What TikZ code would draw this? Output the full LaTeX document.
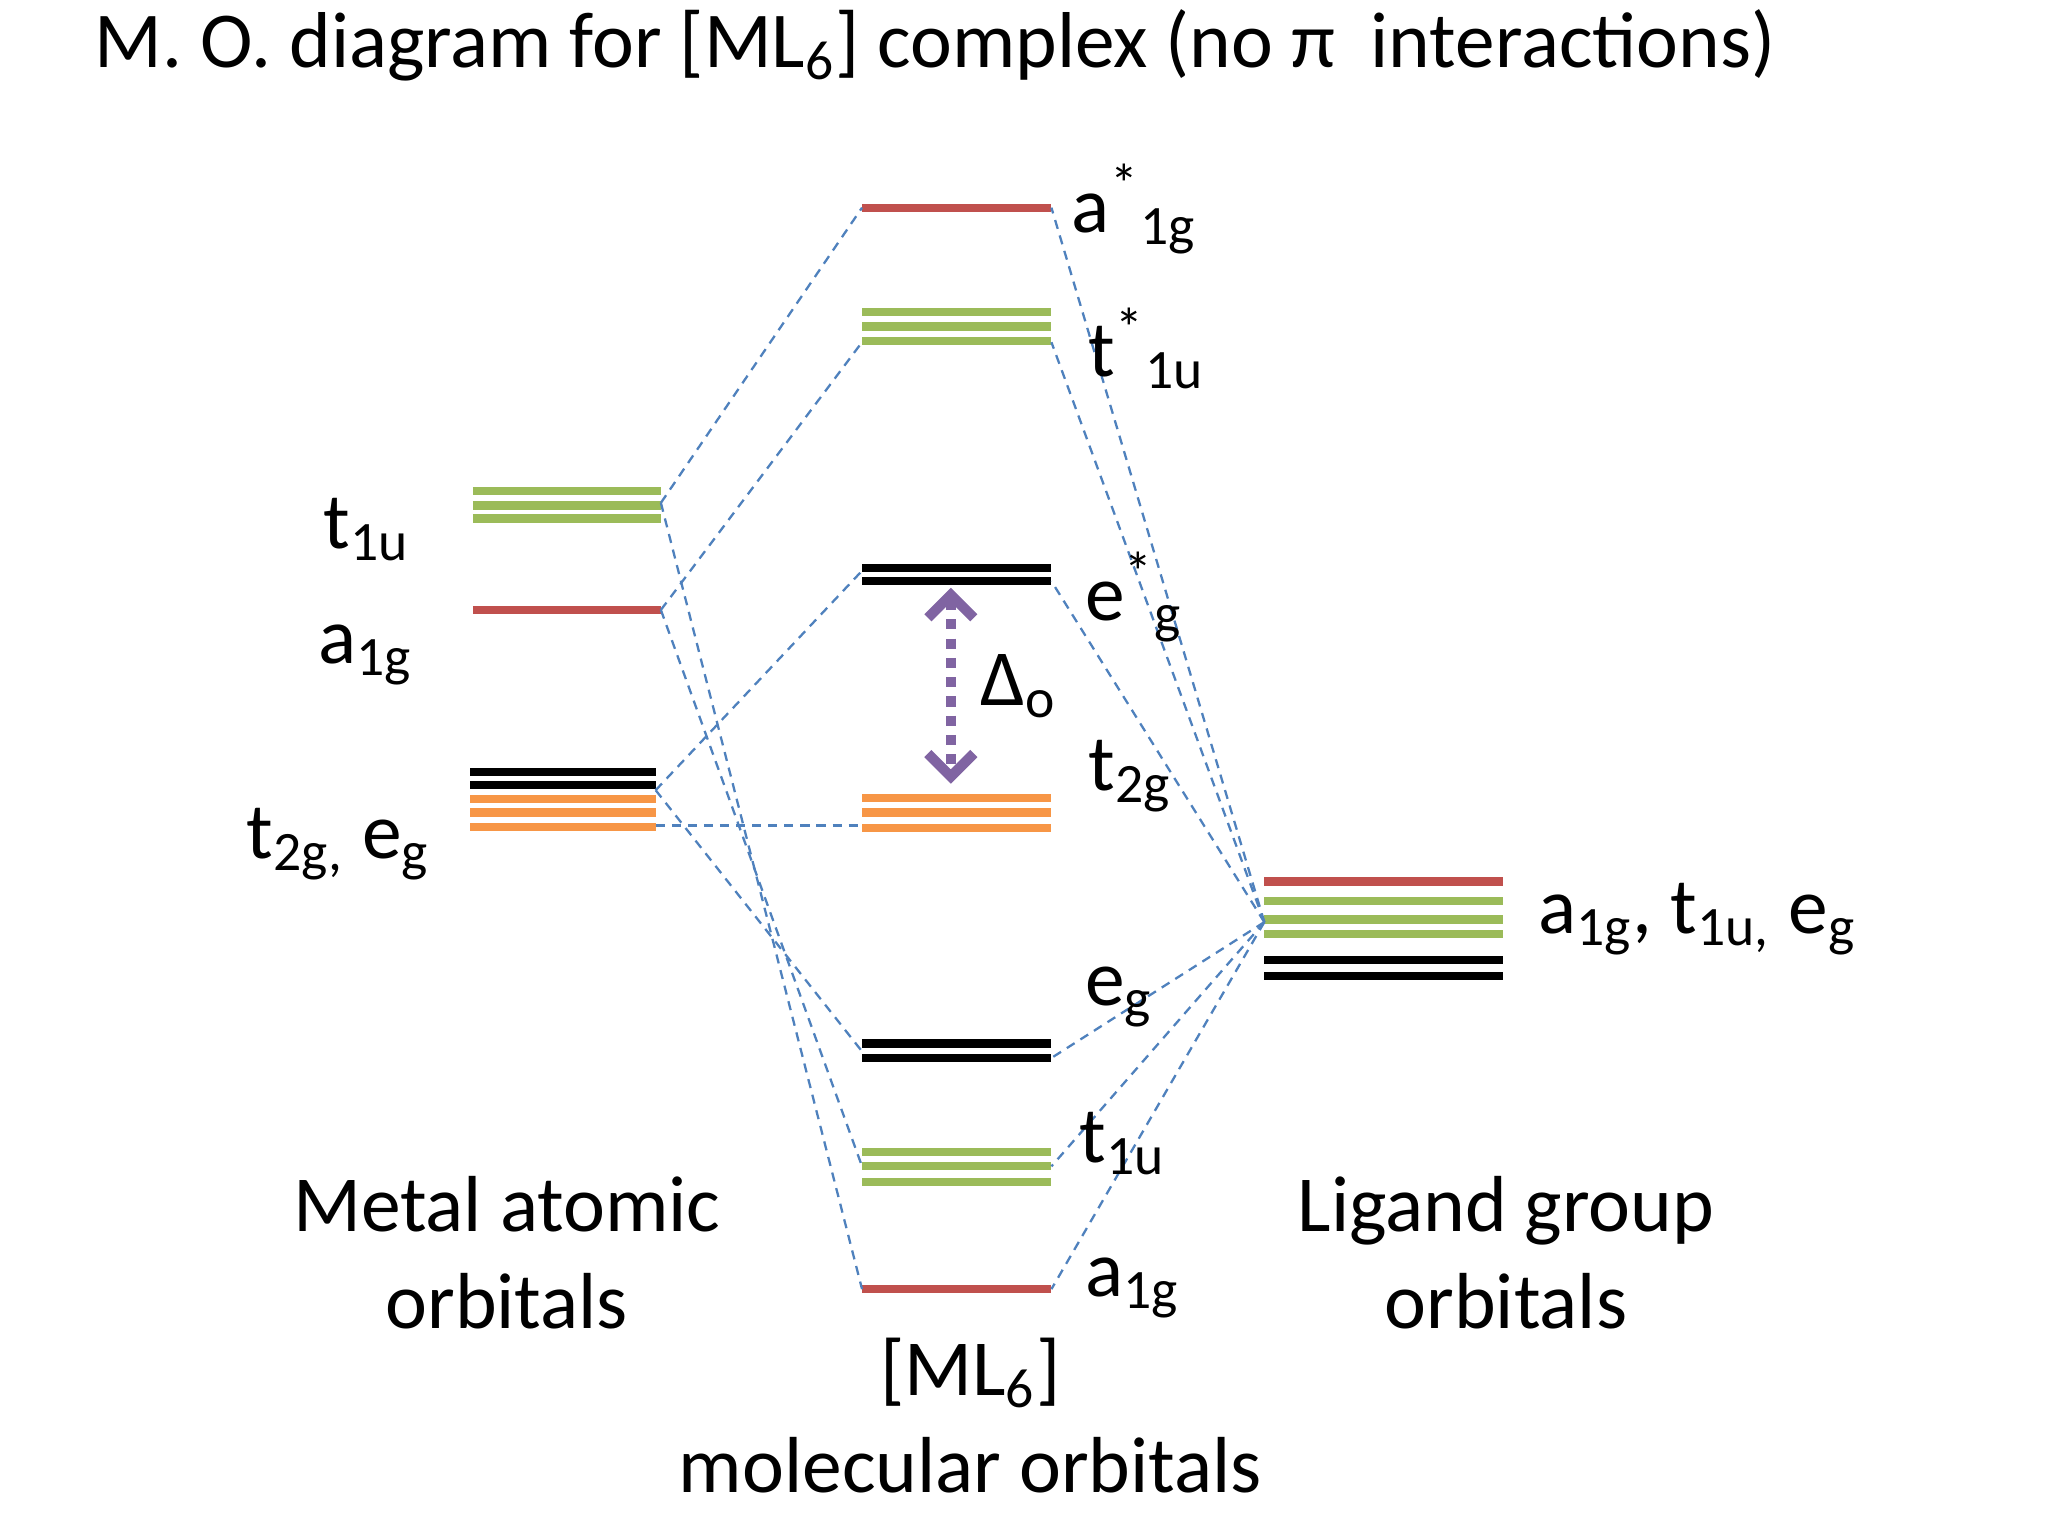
\documentclass[tikz,border=0pt]{standalone}
\usepackage{fontspec}
\setmainfont{Carlito}
\usetikzlibrary{arrows.meta}
\definecolor{lvred}{RGB}{192,80,77}
\definecolor{lvgreen}{RGB}{155,187,89}
\definecolor{lvorange}{RGB}{247,150,70}
\definecolor{conblue}{RGB}{79,129,189}
\definecolor{delpurple}{RGB}{128,100,162}
\tikzset{
  lvl/.style={line width=1.8pt},
  conn/.style={conblue,dashed,line width=0.5pt,dash pattern=on 2pt off 1.5pt},
  lab/.style={font=\fontsize{17.3}{21}\selectfont,inner sep=0pt},
}
\begin{document}
\begin{tikzpicture}[x=0.01cm,y=-0.01cm]
\useasboundingbox (0,0) rectangle (1568,1176);
\node[anchor=base west,font=\fontsize{17.25}{19}\selectfont,inner sep=0pt] (title) at (72,52)
  {M. O. diagram for [ML\textsubscript{6}] complex (no π\ \ interactions)};
% metal levels
\foreach \y in {376,387,397} \draw[lvl,lvgreen] (362,\y) -- (506,\y);
\draw[lvl,lvred] (362,467) -- (506,467);
\foreach \y/\c in {591/black,601/black,612/lvorange,622/lvorange,633/lvorange}
  \draw[lvl,\c] (360,\y) -- (502,\y);
% molecular orbitals
\draw[lvl,lvred] (660,159) -- (805,159);
\foreach \y in {239,250,261} \draw[lvl,lvgreen] (660,\y) -- (805,\y);
\foreach \y in {435,445} \draw[lvl,black] (660,\y) -- (805,\y);
\foreach \y in {611,622,634} \draw[lvl,lvorange] (660,\y) -- (805,\y);
\foreach \y in {799,810} \draw[lvl,black] (660,\y) -- (805,\y);
\foreach \y in {882,893,905} \draw[lvl,lvgreen] (660,\y) -- (805,\y);
\draw[lvl,lvred] (660,987) -- (805,987);
% ligand levels
\foreach \y/\c in {675/lvred,690/lvgreen,704/lvgreen,715/lvgreen,735/black,747/black}
  \draw[lvl,\c] (968,\y) -- (1151,\y);
% end points
\coordinate (mT1u) at (506,385);
\coordinate (mA1g) at (506,467);
\coordinate (mTeUp) at (502,605);
\coordinate (mTeLo) at (502,632);
\coordinate (aStarL) at (660,159);  \coordinate (aStarR) at (805,159);
\coordinate (tStarL) at (660,262);  \coordinate (tStarR) at (805,262);
\coordinate (eStarL) at (660,437);  \coordinate (eStarR) at (805,445);
\coordinate (t2gL) at (660,632);
\coordinate (egL) at (660,805);     \coordinate (egR) at (805,810);
\coordinate (t1uL) at (660,893);    \coordinate (t1uR) at (805,893);
\coordinate (a1gL) at (660,987);    \coordinate (a1gR) at (805,987);
\coordinate (lig) at (968,706);
% connectors
\draw[conn] (mT1u) -- (aStarL);
\draw[conn] (mA1g) -- (tStarL);
\draw[conn] (mT1u) -- (a1gL);
\draw[conn] (mA1g) -- (t1uL);
\draw[conn] (mTeUp) -- (eStarL);
\draw[conn] (mTeUp) -- (egL);
\draw[conn] (mTeLo) -- (t2gL);
\foreach \p in {aStarR,tStarR,eStarR,egR,t1uR,a1gR} \draw[conn] (lig) -- (\p);
% splitting
\coordinate (dTop) at (728,450);
\coordinate (dBot) at (728,600);
\draw[delpurple,line width=2.2pt,dotted,{Straight Barb[length=5pt,width=10pt]}-{Straight Barb[length=5pt,width=10pt]}] (dTop) -- (dBot);
\node[lab,anchor=base west] (delta) at (750,540) {Δ\textsubscript{o}};
% labels
\node[lab,anchor=base west] (lT1u) at (247,420) {t\textsubscript{1u}};
\node[lab,anchor=base west] (lA1g) at (243,508) {a\textsubscript{1g}};
\node[lab,anchor=base west] (lTe) at (188,657) {t\textsubscript{2g,} e\textsubscript{g}};
\node[lab,anchor=base west] (rAs) at (820,178) {a\textsuperscript{*}\textsubscript{1g}};
\node[lab,anchor=base west] (rTs) at (833,288) {t\textsuperscript{*}\textsubscript{1u}};
\node[lab,anchor=base west] (rEs) at (830,475) {e\textsuperscript{*}\textsubscript{g}};
\node[lab,anchor=base west] (rT2g) at (833,605) {t\textsubscript{2g}};
\node[lab,anchor=base west] (rEg) at (830,770) {e\textsubscript{g}};
\node[lab,anchor=base west] (rT1u) at (826,890) {t\textsubscript{1u}};
\node[lab,anchor=base west] (rA1g) at (830,993) {a\textsubscript{1g}};
\node[lab,anchor=base west] (lig1) at (1177,715) {a\textsubscript{1g}, t\textsubscript{1u,} e\textsubscript{g}};
\node[lab,align=center,anchor=north] (metal) at (388,900) {Metal atomic\\orbitals};
\node[lab,align=center,anchor=north] (ligand) at (1153,900) {Ligand group\\orbitals};
\node[lab,align=center,anchor=north] (ml6) at (743,1024) {[ML\textsubscript{6}]\\molecular orbitals};
\end{tikzpicture}
\end{document}
